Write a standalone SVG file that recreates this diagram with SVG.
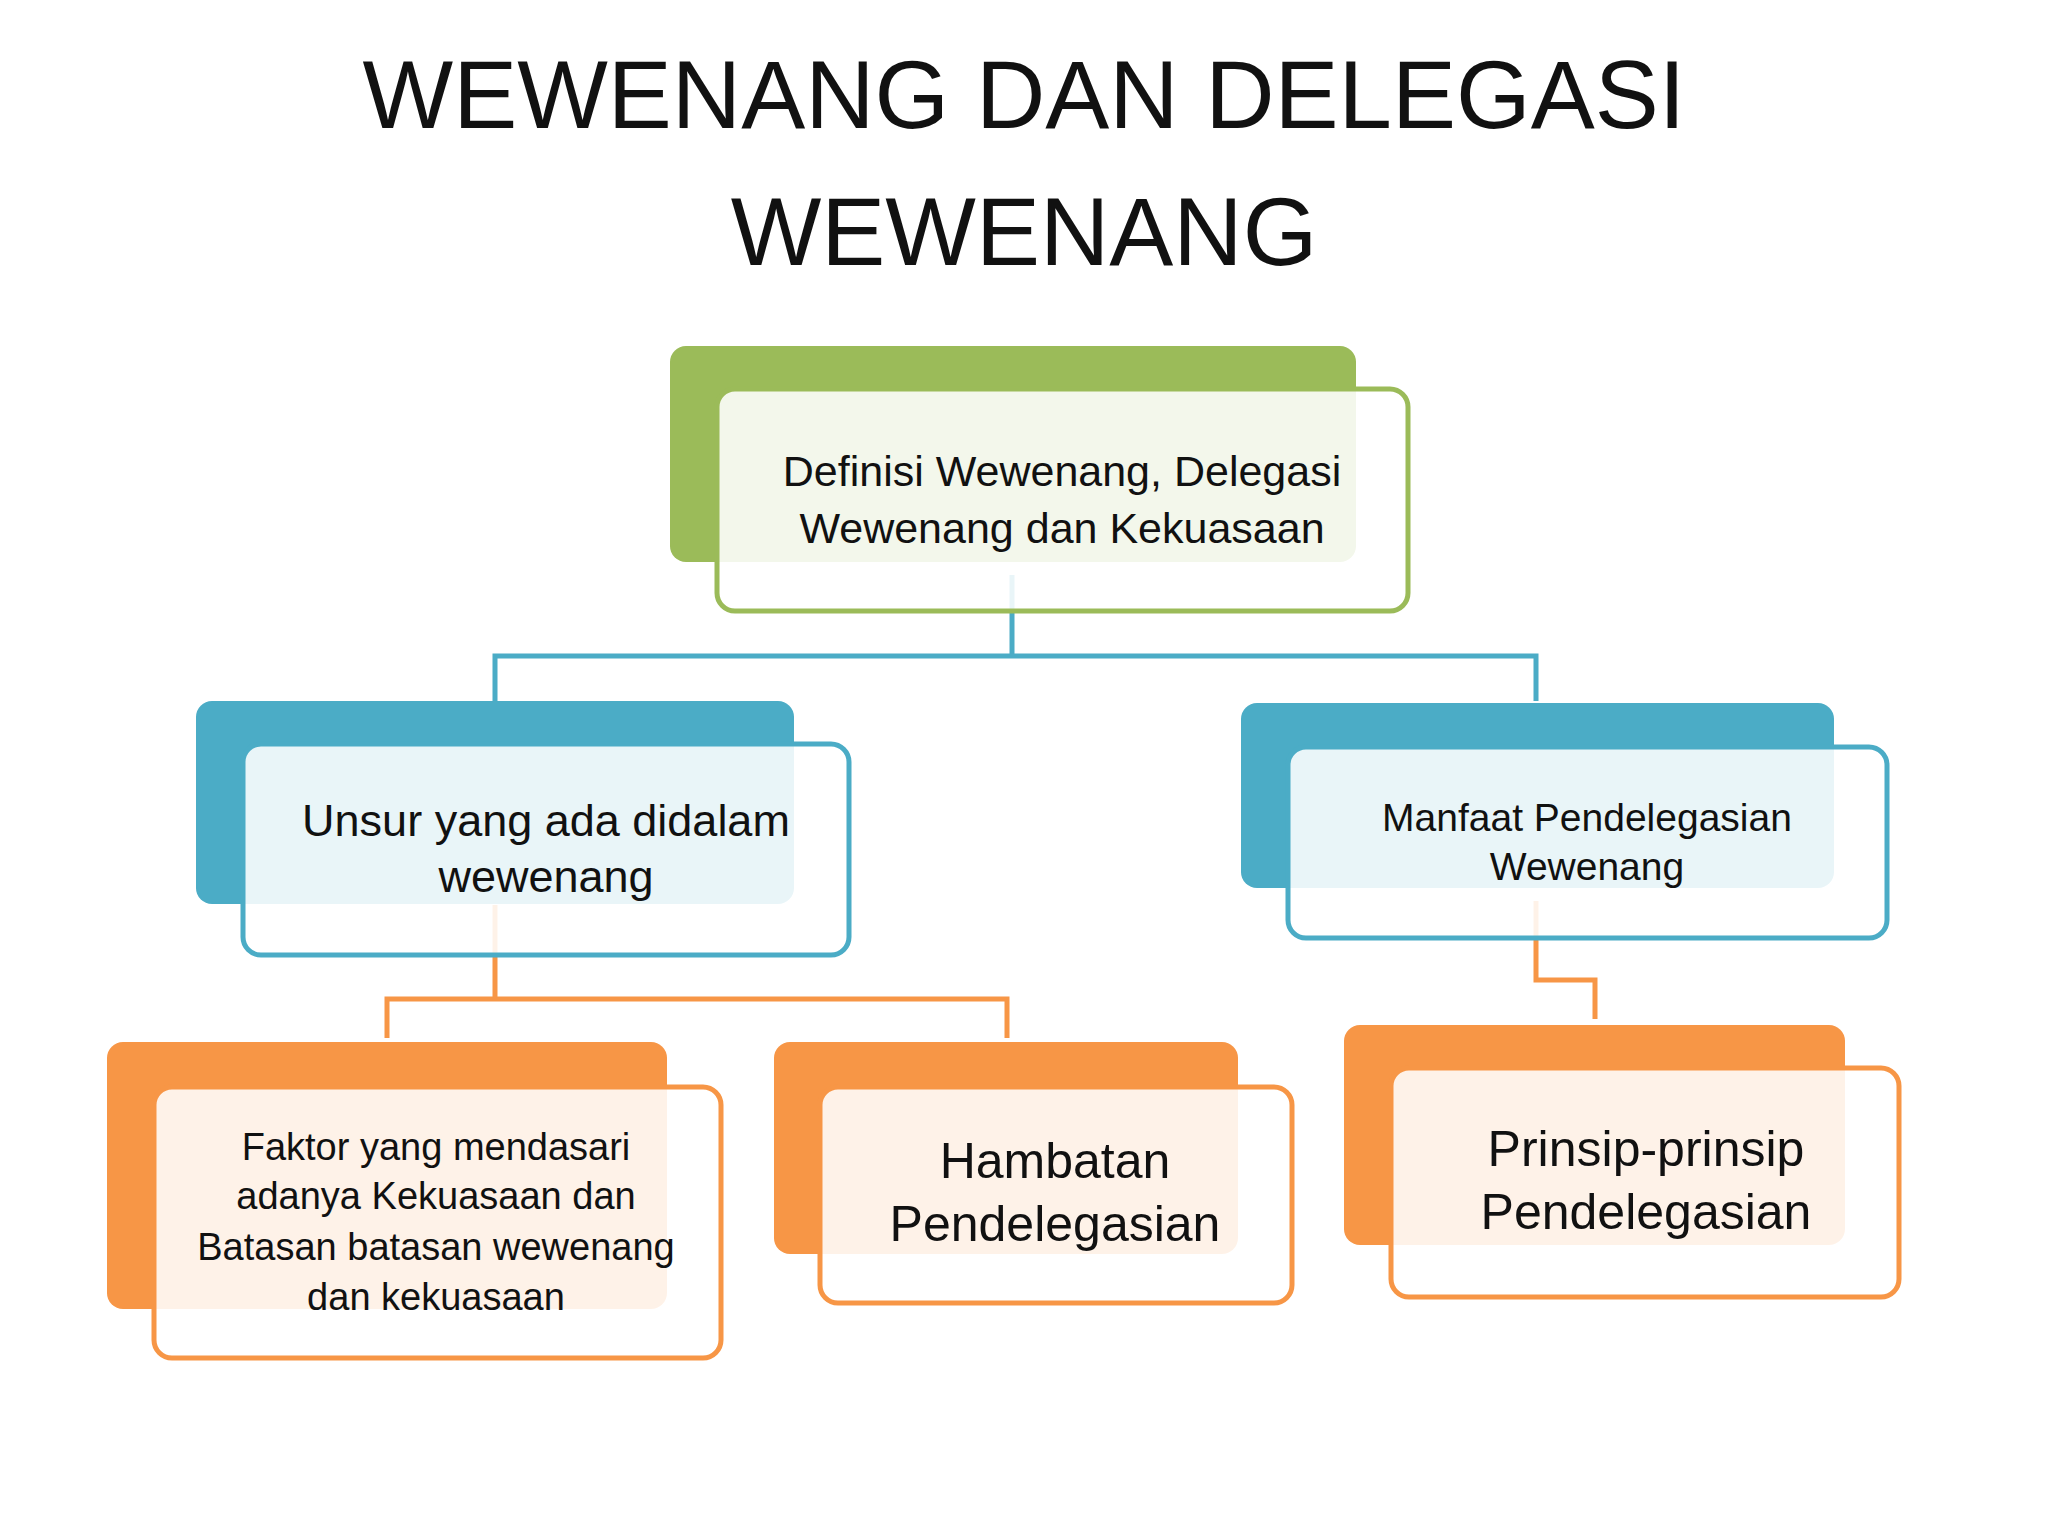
<svg xmlns="http://www.w3.org/2000/svg" width="2048" height="1536" viewBox="0 0 2048 1536">
<style>
text{font-family:"Liberation Sans",Arial,sans-serif;fill:#111;text-anchor:middle}
.front{fill:#fff;fill-opacity:0.88;stroke-width:5}
.g .back{fill:#9bbb59}.g .front{stroke:#9bbb59}
.b .back{fill:#4bacc6}.b .front{stroke:#4bacc6}
.o .back{fill:#f79646}.o .front{stroke:#f79646}
.conn{fill:none;stroke-width:5}
</style>
<rect width="2048" height="1536" fill="#fff"/>
<text x="1024" y="128" font-size="96">WEWENANG DAN DELEGASI</text>
<text x="1024" y="265" font-size="96">WEWENANG</text>
<g id="connectors">
<path class="conn" stroke="#4bacc6" d="M1012 575V656H495V701M1012 656H1536V701"/>
<path class="conn" stroke="#f79646" d="M495 905V999H387V1038M495 999H1007V1038M1536 901V980H1595V1019"/>
</g>
<g id="n0" class="g">
<rect class="back" x="670" y="346" width="686" height="216" rx="16"/>
<rect class="front" x="717" y="389" width="691" height="222" rx="18"/>
<text x="1062" y="486" font-size="43">Definisi Wewenang, Delegasi</text>
<text x="1062" y="543" font-size="43">Wewenang dan Kekuasaan</text>
</g>
<g id="n1" class="b">
<rect class="back" x="196" y="701" width="598" height="203" rx="16"/>
<rect class="front" x="243" y="744" width="606" height="211" rx="18"/>
<text x="546" y="836" font-size="45">Unsur yang ada didalam</text>
<text x="546" y="892" font-size="45">wewenang</text>
</g>
<g id="n2" class="b">
<rect class="back" x="1241" y="703" width="593" height="185" rx="16"/>
<rect class="front" x="1288" y="747" width="599" height="191" rx="18"/>
<text x="1587" y="831" font-size="39">Manfaat Pendelegasian</text>
<text x="1587" y="880" font-size="39">Wewenang</text>
</g>
<g id="n3" class="o">
<rect class="back" x="107" y="1042" width="560" height="267" rx="16"/>
<rect class="front" x="154" y="1087" width="567" height="271" rx="18"/>
<text x="436" y="1160" font-size="38">Faktor yang mendasari</text>
<text x="436" y="1209" font-size="38">adanya Kekuasaan dan</text>
<text x="436" y="1260" font-size="38">Batasan batasan wewenang</text>
<text x="436" y="1310" font-size="38">dan kekuasaan</text>
</g>
<g id="n4" class="o">
<rect class="back" x="774" y="1042" width="464" height="212" rx="16"/>
<rect class="front" x="820" y="1087" width="472" height="216" rx="18"/>
<text x="1055" y="1178" font-size="50">Hambatan</text>
<text x="1055" y="1241" font-size="50">Pendelegasian</text>
</g>
<g id="n5" class="o">
<rect class="back" x="1344" y="1025" width="501" height="220" rx="16"/>
<rect class="front" x="1391" y="1068" width="508" height="229" rx="18"/>
<text x="1646" y="1166" font-size="50">Prinsip-prinsip</text>
<text x="1646" y="1229" font-size="50">Pendelegasian</text>
</g>
</svg>
